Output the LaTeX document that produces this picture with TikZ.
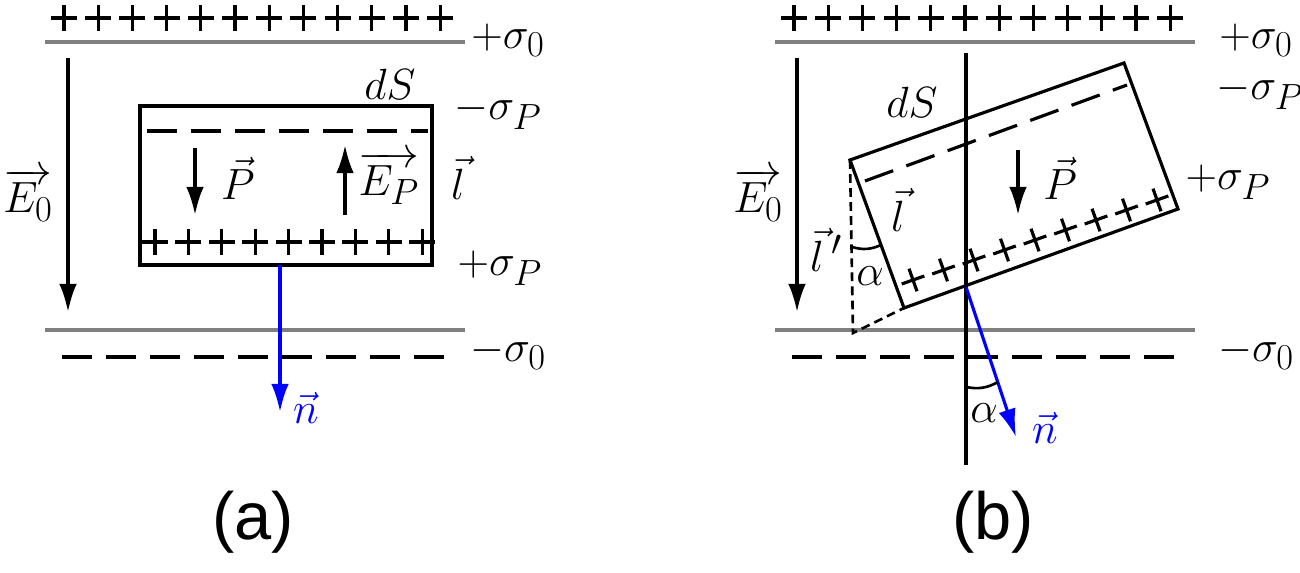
\documentclass[tikz,border=0pt]{standalone}
\usepackage{fontspec}
\setsansfont{Liberation Sans}
\usetikzlibrary{arrows.meta}
\begin{document}
\begin{tikzpicture}[x=0.02cm,y=-0.02cm,
  lbl/.style={font=\fontsize{31}{36}\selectfont,inner sep=1pt},
  plate/.style={draw=gray,line width=2.5pt},
  dsh/.style={line width=1.8pt,dash pattern=on 0.6cm off 0.28cm},
  ln/.style={line width=1.8pt},
  arr/.style={line width=1.8pt,-{Latex[length=16pt,width=10pt]}},
  pl/.style={line width=1.8pt}]
\useasboundingbox (0,0) rectangle (1300,573);
\newcommand\pls[2]{\draw[pl] (#1-13,#2) -- (#1+13,#2) (#1,#2-13) -- (#1,#2+13);}
% ---- (a)
\foreach \i in {0,...,11}{\pls{64+34.2*\i}{18}}
\draw[plate] (45,42) -- (465,42);
\draw[plate] (45,330) -- (465,330);
\draw[dsh] (62,357) -- (455,357);
\draw[ln] (140,106) rectangle (432,265);
\draw[dsh] (147,131) -- (428,131);
\foreach \i in {0,...,8}{\pls{155+33.4*\i}{242}}
\coordinate (ea) at (68,58); \coordinate (eb) at (68,312);
\draw[arr] (ea) -- (eb);
\node[lbl] (e0a) at (28,195) {$\overrightarrow{E_0}$};
\coordinate (pa) at (195,148); \coordinate (pb) at (195,215);
\draw[arr] (pa) -- (pb);
\node[lbl] (Pa) at (238,178) {$\vec P$};
\coordinate (qa) at (345,215); \coordinate (qb) at (345,145);
\draw[arr] (qa) -- (qb);
\node[lbl] (EPa) at (389,178) {$\overrightarrow{E_P}$};
\node[lbl] (la) at (458,178) {$\vec l$};
\node[lbl] (dSa) at (390,84) {$dS$};
\node[lbl] (msPa) at (498,112) {$-\sigma_P$};
\node[lbl] (psPa) at (500,268) {$+\sigma_P$};
\node[lbl] (ps0a) at (508,40) {$+\sigma_0$};
\node[lbl] (ms0a) at (508,353) {$-\sigma_0$};
\coordinate (na) at (280,265); \coordinate (nb) at (280,412);
\draw[arr,blue] (na) -- (nb);
\node[lbl,blue] (nla) at (306,408) {$\vec n$};
\node[font=\sffamily\fontsize{38}{42}\selectfont] (capa) at (253,522) {(a)};
% ---- (b)
\foreach \i in {0,...,11}{\pls{794+34.2*\i}{18}}
\draw[plate] (775,42) -- (1195,42);
\draw[plate] (775,330) -- (1195,330);
\draw[dsh] (792,357) -- (1185,357);
\coordinate (A) at (850,160); \coordinate (B) at (1124,63);
\coordinate (C) at (1178,209); \coordinate (D) at (904,308);
\draw[ln] (A) -- (B) -- (C) -- (D) -- cycle;
\draw[dsh] (865,181) -- (1127,85);
\foreach \i in {0,...,8}{\begin{scope}[shift={({913+30.5*\i},{280-10*\i})},rotate=19.5]\draw[pl] (-12,0)--(12,0) (0,-12)--(0,12);\end{scope}}
\draw[ln] (966,53) -- (966,465);
\coordinate (L) at (853,333);
\draw[line width=1.5pt,dash pattern=on 5pt off 3pt] (A) -- (L) -- (D);
\coordinate (nc) at (966,287); \coordinate (nd) at (1016,437);
\draw[arr,blue] (nc) -- (nd);
\draw[line width=1.5pt] (966,387) to[bend right=20] (998,382);
\draw[line width=1.5pt] (852,247) to[bend right=20] (881,245);
\coordinate (eb1) at (797,58); \coordinate (eb2) at (797,312);
\draw[arr] (eb1) -- (eb2);
\node[lbl] (e0b) at (758,195) {$\overrightarrow{E_0}$};
\coordinate (pc) at (1018,150); \coordinate (pd) at (1018,215);
\draw[arr] (pc) -- (pd);
\node[lbl] (Pb) at (1060,178) {$\vec P$};
\node[lbl] (lb) at (898,210) {$\vec l$};
\node[lbl] (lpb) at (826,250) {$\vec l\,'$};
\node[lbl] (al1) at (870,276) {$\alpha$};
\node[lbl] (al2) at (984,413) {$\alpha$};
\node[lbl,blue] (nlb) at (1045,428) {$\vec n$};
\node[lbl] (dSb) at (912,102) {$dS$};
\node[lbl] (msPb) at (1260,92) {$-\sigma_P$};
\node[lbl] (psPb) at (1228,182) {$+\sigma_P$};
\node[lbl] (ps0b) at (1256,40) {$+\sigma_0$};
\node[lbl] (ms0b) at (1256,353) {$-\sigma_0$};
\node[font=\sffamily\fontsize{38}{42}\selectfont] (capb) at (993,522) {(b)};
\end{tikzpicture}
\end{document}
